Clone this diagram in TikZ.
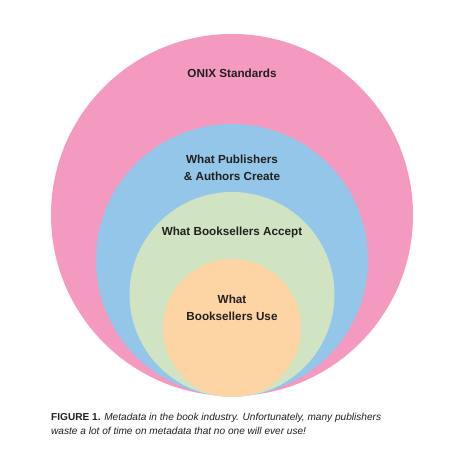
\documentclass[tikz,border=0pt]{standalone}
\usepackage{fontspec}
\setmainfont{Liberation Sans}
\definecolor{cpink}{HTML}{F49AC0}
\definecolor{cblue}{HTML}{93C6E8}
\definecolor{cgreen}{HTML}{D0E4C4}
\definecolor{corange}{HTML}{FDD4A3}
\definecolor{ctext}{HTML}{231F20}
\begin{document}
\begin{tikzpicture}[x=1pt,y=-1pt,
  ring/.style={circle,inner sep=0pt,draw=none},
  lbl/.style={font=\fontsize{11.7}{17}\selectfont\bfseries,text=ctext,align=center,inner sep=0pt}]
\useasboundingbox[fill=white] (0,0) rectangle (460,465);
\node[ring,fill=cpink,minimum size=362pt] (onix) at (232,215) {};
\node[ring,fill=cblue,minimum size=272pt] (pub) at (232,260) {};
\node[ring,fill=cgreen,minimum size=205pt] (acc) at (232,294.5) {};
\node[ring,fill=corange,minimum size=138pt] (use) at (232,328) {};
\node[lbl] (lonix) at (232,73) {ONIX Standards};
\node[lbl] (lpub) at (232,167.5) {What Publishers\\\& Authors Create};
\node[lbl] (lacc) at (232,232) {What Booksellers Accept};
\node[lbl] (luse) at (232,307.5) {What\\Booksellers Use};
\node[anchor=north west,inner sep=0pt,align=left,text=ctext,
  font=\fontsize{10.1}{14}\selectfont] (cap) at (51,412.5)
  {\textbf{FIGURE 1.} \textit{Metadata in the book industry. Unfortunately, many publishers}\\
   \textit{waste a lot of time on metadata that no one will ever use!}};
\end{tikzpicture}
\end{document}
